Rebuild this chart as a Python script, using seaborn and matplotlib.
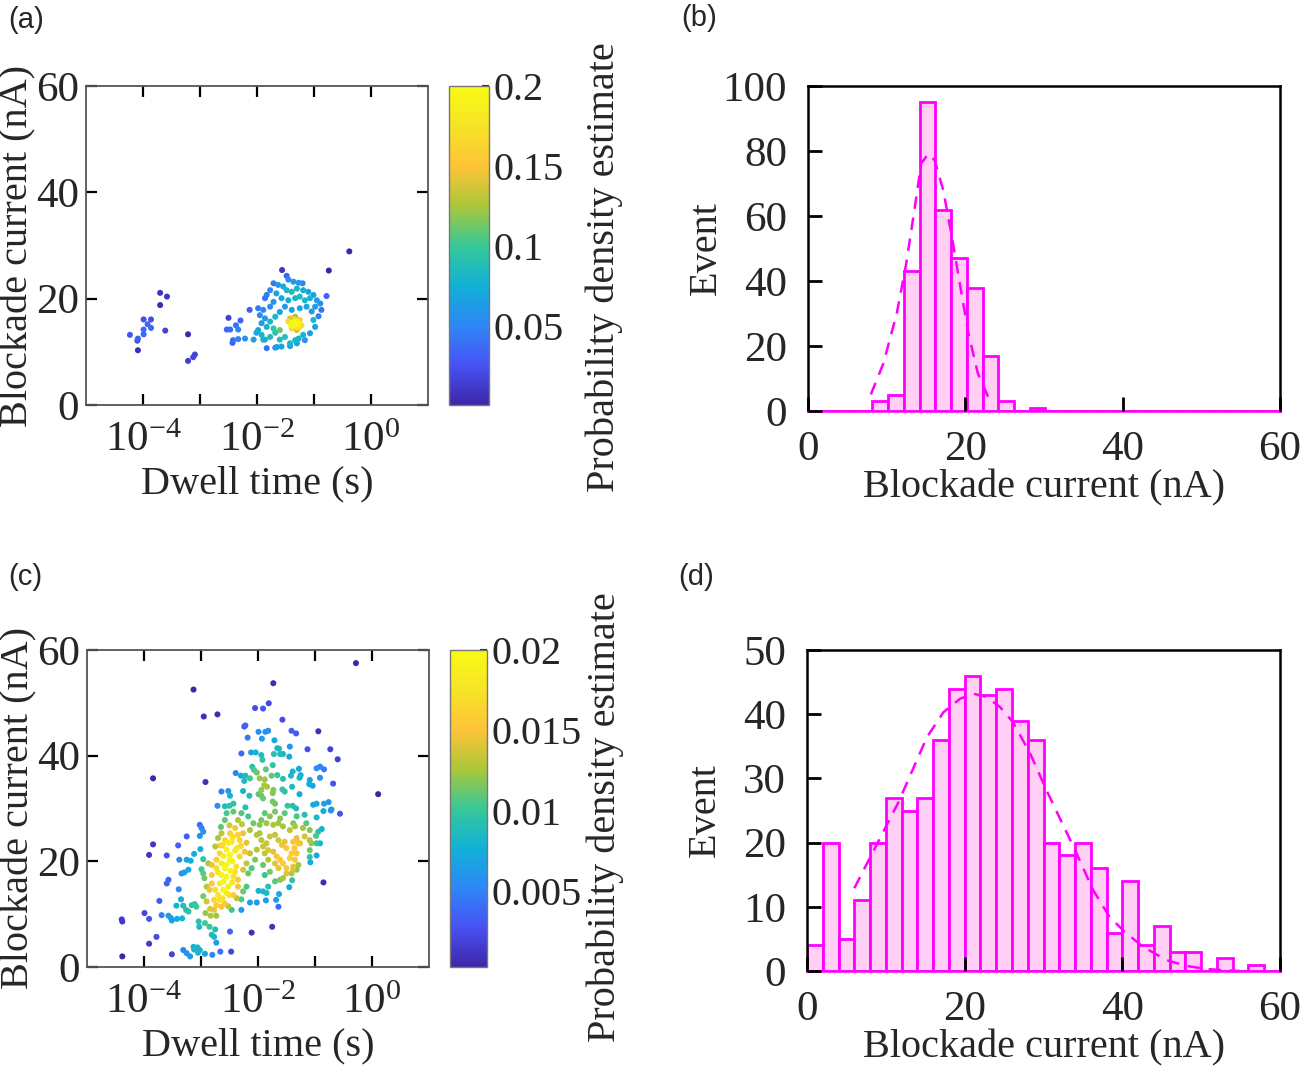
import matplotlib
matplotlib.use("Agg")
import matplotlib.pyplot as plt
from matplotlib.colors import LinearSegmentedColormap, Normalize
from matplotlib.cm import ScalarMappable
from matplotlib.ticker import NullLocator
import numpy as np
import pandas as pd
import seaborn as sns

# ---- data ---------------------------------------------------------------
# scatter panels: (log10 dwell time [s], blockade current [nA])
a_points = [
    (-3.70, 21.1), (-3.58, 20.4), (-3.70, 18.8), (-3.99, 16.1), (-3.86, 16.1), (-3.92, 15.2),
    (-3.99, 14.2), (-3.86, 14.5), (-3.61, 14.0), (-3.99, 13.3), (-4.23, 13.2), (-4.09, 12.5),
    (-4.10, 12.1), (-4.09, 10.3), (-3.21, 13.3), (-3.21, 8.3), (-3.12, 9.0), (-3.09, 9.5),
    (-0.38, 28.9), (-0.74, 25.3), (-1.56, 25.4), (-1.48, 24.3), (-1.45, 23.6), (-1.36, 23.2),
    (-1.27, 23.0), (-1.20, 22.9), (-1.71, 22.9), (-1.63, 22.6), (-1.54, 22.3), (-1.77, 21.6),
    (-1.83, 20.7), (-1.86, 20.1), (-1.66, 21.0), (-1.48, 21.6), (-1.39, 21.3), (-1.30, 21.9),
    (-1.19, 21.6), (-1.10, 21.3), (-1.01, 20.7), (-1.07, 20.1), (-0.95, 19.7), (-0.89, 19.1),
    (-0.78, 20.5), (-0.87, 17.9), (-0.92, 16.7), (-0.98, 18.5), (-1.16, 19.7), (-1.25, 20.4),
    (-1.33, 20.1), (-1.45, 19.7), (-1.57, 20.1), (-1.71, 19.4), (-1.77, 18.5), (-1.89, 17.9),
    (-1.98, 18.2), (-1.95, 16.9), (-1.86, 16.3), (-1.77, 15.7), (-1.68, 16.6), (-1.60, 17.5),
    (-1.51, 18.5), (-1.39, 17.9), (-1.25, 18.2), (-1.13, 18.5), (-1.04, 17.6), (-1.01, 16.0),
    (-0.98, 14.7), (-1.07, 13.5), (-1.19, 13.2), (-1.27, 12.5), (-1.33, 12.2), (-1.42, 11.6),
    (-1.51, 12.8), (-1.60, 14.1), (-1.71, 14.4), (-1.83, 14.7), (-1.92, 15.4), (-1.98, 14.1),
    (-2.01, 13.6), (-1.92, 13.2), (-1.86, 12.3), (-1.77, 12.8), (-1.68, 13.6), (-1.60, 12.3),
    (-1.57, 11.0), (-1.68, 10.8), (-1.83, 10.7), (-1.42, 11.1), (-1.30, 11.6), (-1.16, 12.2),
    (-1.42, 16.3), (-1.33, 16.6), (-1.25, 16.0), (-1.36, 15.0), (-1.30, 14.7), (-1.39, 15.4),
    (-1.45, 15.7), (-1.27, 15.4), (-1.33, 15.7), (-1.22, 15.0), (-1.39, 14.4), (-1.30, 14.1),
    (-1.32, 15.2), (-1.35, 15.5), (-1.30, 15.8), (-1.38, 14.8), (-1.28, 15.1), (-1.34, 16.1),
    (-1.40, 15.0), (-1.26, 14.6), (-2.13, 17.9), (-2.50, 16.4), (-2.29, 15.9), (-2.37, 15.0),
    (-2.53, 14.2), (-2.47, 14.2), (-2.33, 14.2), (-2.42, 12.2), (-2.33, 12.4), (-2.21, 12.5),
    (-2.06, 12.3), (-1.65, 10.9), (-2.43, 11.7), (-1.89, 12.3),
]

c_points = [
    (-3.13, 52.5), (-2.95, 47.4), (-2.71, 47.8), (-2.05, 49.0), (-2.24, 45.5), (-2.22, 45.7),
    (-2.18, 43.4), (-1.99, 44.5), (-2.29, 40.4), (-2.12, 40.6), (-2.04, 40.6), (-3.84, 35.7),
    (-2.92, 35.0), (-2.39, 36.7), (-2.30, 36.2), (-2.22, 36.2), (-2.14, 35.7), (-2.07, 37.3),
    (-2.02, 36.8), (-2.10, 37.9), (-2.24, 35.2), (-2.26, 33.3), (-2.15, 32.4), (-1.99, 32.7),
    (-2.64, 33.2), (-2.52, 33.3), (-2.49, 32.4), (-2.71, 30.5), (-2.58, 30.4), (-2.50, 30.5),
    (-2.43, 30.9), (-2.22, 30.2),
    (-0.28, 57.5), (-1.73, 53.7), (-1.81, 49.9), (-1.91, 48.9), (-1.57, 46.8), (-1.87, 44.5),
    (-1.82, 44.7), (-1.41, 44.7), (-1.33, 44.2), (-0.94, 44.6), (-1.93, 43.2), (-1.71, 42.9),
    (-1.66, 41.4), (-1.63, 41.3), (-1.72, 40.3), (-1.61, 40.3), (-1.56, 40.3), (-1.44, 41.7),
    (-1.45, 39.8), (-1.13, 41.2), (-0.73, 41.2), (-0.60, 39.3), (-1.94, 40.1), (-1.92, 39.2),
    (-1.74, 38.2), (-1.86, 37.4), (-1.39, 37.0), (-1.28, 37.5), (-0.97, 37.6), (-0.91, 37.9),
    (-0.84, 37.4), (-0.91, 35.8), (-1.09, 35.4), (-1.10, 34.6), (-1.04, 34.3), (-0.68, 34.7),
    (-1.97, 35.7), (-1.88, 35.5), (-1.76, 36.2), (-1.66, 36.3), (-1.56, 35.6), (-1.42, 36.2),
    (-1.27, 35.8), (-1.25, 36.3), (-1.89, 34.4), (-1.84, 34.1), (-1.94, 33.5), (-1.73, 33.5),
    (-1.74, 32.9), (-1.57, 33.6), (-1.53, 33.2), (-1.40, 34.1), (-1.27, 32.7), (-1.94, 32.4),
    (-1.91, 31.9), (-1.74, 31.3), (-1.70, 30.9), (-1.48, 30.5), (-1.39, 30.5), (-1.33, 30.0),
    (-1.03, 30.7), (-0.97, 30.9), (-0.84, 30.9), (-0.76, 31.2), (-0.71, 29.8), (0.11, 32.7),
    (-3.84, 23.2), (-3.91, 21.2), (-3.60, 21.1), (-3.40, 23.0), (-3.25, 24.7), (-3.02, 26.9),
    (-2.99, 26.3), (-2.96, 25.6), (-3.02, 24.8), (-3.01, 22.3), (-3.12, 21.4), (-3.38, 20.3),
    (-3.25, 20.3), (-3.18, 20.1), (-3.22, 18.4), (-3.29, 17.9), (-3.34, 17.7), (-3.57, 16.5),
    (-3.60, 15.8), (-3.39, 14.7), (-3.73, 12.5), (-3.99, 10.2), (-3.91, 9.1), (-3.69, 9.8),
    (-3.57, 9.7), (-3.53, 9.3), (-3.51, 8.8), (-3.42, 9.1), (-3.33, 9.2), (-3.43, 11.6),
    (-3.31, 11.6), (-3.26, 10.8), (-3.35, 12.8), (-3.16, 11.7), (-3.11, 11.9), (-3.22, 10.5),
    (-3.78, 5.7), (-3.91, 4.4), (-4.39, 9.0), (-4.38, 8.6), (-4.38, 2.0), (-3.51, 2.4),
    (-3.31, 3.2), (-3.25, 2.6), (-3.19, 2.0), (-3.12, 3.3), (-3.13, 3.8), (-3.06, 3.7),
    (-3.05, 2.7), (-3.02, 3.2), (-2.93, 2.5), (-2.80, 2.3), (-2.66, 2.9), (-2.47, 2.9),
    (-2.73, 4.6), (-2.77, 5.7), (-2.81, 6.1), (-2.75, 7.1), (-2.85, 7.6), (-3.03, 7.6),
    (-3.04, 8.6), (-2.93, 8.3), (-2.92, 10.2), (-2.83, 9.7), (-2.73, 9.7), (-2.77, 10.8),
    (-2.84, 11.0), (-3.08, 11.4), (-2.90, 12.4), (-2.96, 13.4), (-2.85, 14.6), (-2.90, 15.2),
    (-2.81, 15.8), (-2.75, 14.6), (-2.70, 13.6), (-2.77, 12.7), (-2.67, 12.7), (-2.73, 11.7),
    (-2.64, 11.4), (-2.94, 16.8), (-2.96, 17.7), (-2.99, 18.5), (-2.87, 19.6), (-2.81, 19.3),
    (-2.73, 20.3), (-2.96, 20.4), (-2.75, 22.8), (-2.67, 21.5), (-2.70, 24.4), (-2.58, 24.0),
    (-2.64, 25.3), (-2.49, 25.3), (-2.40, 26.3), (-2.58, 27.8), (-2.55, 29.1), (-2.43, 29.4),
    (-2.29, 29.1), (-2.17, 28.5), (-2.08, 27.2), (-2.14, 25.9), (-2.02, 25.0), (-2.26, 25.3),
    (-2.32, 24.0), (-2.46, 23.7), (-2.37, 22.5), (-2.23, 21.8), (-2.14, 21.5), (-2.02, 22.2),
    (-2.05, 20.3), (-2.20, 19.6), (-2.26, 18.4), (-2.17, 17.7), (-2.49, 20.3), (-2.58, 18.7),
    (-2.64, 17.4), (-2.55, 17.1), (-2.43, 17.1), (-2.35, 16.5), (-2.52, 15.2), (-2.43, 13.6),
    (-2.37, 13.0), (-2.29, 12.8), (-2.46, 10.8), (-2.29, 10.8), (-2.49, 6.7), (-2.11, 6.5),
    (-2.14, 12.2), (-2.02, 12.2), (-1.99, 14.4), (-2.11, 18.7), (-2.55, 22.2), (-2.49, 21.2),
    (-2.32, 20.9), (-2.64, 19.6), (-2.73, 18.7), (-2.81, 17.4), (-2.67, 15.8), (-2.61, 14.6),
    (-2.50, 13.6), (-2.26, 14.3), (-2.20, 15.2), (-2.35, 15.2),
    (-2.62, 23.0), (-2.52, 23.5), (-2.44, 24.6), (-2.35, 25.0), (-2.40, 22.0), (-2.60, 21.0),
    (-2.45, 20.0), (-2.38, 19.0), (-2.55, 19.4), (-2.48, 18.2), (-2.40, 18.0), (-2.60, 16.2),
    (-2.45, 16.0), (-2.55, 14.0), (-2.62, 13.0), (-2.58, 12.0), (-2.52, 11.5), (-2.70, 17.9),
    (-2.66, 23.0), (-2.30, 22.9), (-2.28, 27.0), (-2.35, 27.8), (-2.50, 26.8), (-2.65, 26.5),
    (-2.20, 23.5),
    (-0.56, 29.0), (-0.72, 29.6), (-0.85, 29.5), (-0.97, 28.3), (-1.18, 28.8), (-1.15, 27.2),
    (-1.32, 28.5), (-1.38, 27.2), (-1.53, 29.1), (-1.61, 28.1), (-1.70, 29.4), (-1.79, 28.5),
    (-1.88, 29.1), (-1.94, 27.8), (-1.97, 26.9), (-1.85, 27.2), (-1.73, 26.9), (-1.64, 27.2),
    (-1.56, 26.6), (-1.44, 25.9), (-1.35, 26.6), (-1.21, 26.3), (-1.09, 25.9), (-0.94, 25.6),
    (-0.88, 26.1), (-0.98, 24.8), (-1.18, 24.7), (-1.32, 24.4), (-1.26, 23.4), (-1.38, 23.7),
    (-1.09, 24.0), (-0.91, 23.4), (-0.97, 23.4), (-1.06, 23.4), (-1.09, 22.1), (-0.97, 21.1),
    (-1.09, 20.8), (-1.08, 19.8), (-1.29, 23.4), (-1.36, 22.5), (-1.32, 21.5), (-1.41, 21.5),
    (-1.44, 20.6), (-1.35, 20.3), (-1.29, 19.3), (-1.38, 19.0), (-1.50, 18.7), (-1.56, 19.6),
    (-1.61, 20.3), (-1.67, 20.9), (-1.73, 21.8), (-1.82, 22.1), (-1.85, 23.4), (-1.79, 24.7),
    (-1.70, 25.0), (-1.64, 24.0), (-1.58, 23.1), (-1.50, 22.5), (-1.53, 23.7), (-1.97, 25.3),
    (-1.94, 24.0), (-1.91, 22.8), (-1.88, 21.5), (-1.82, 20.3), (-1.70, 19.6), (-1.64, 18.7),
    (-1.91, 19.3), (-1.79, 18.0), (-1.88, 17.4), (-1.70, 16.2), (-1.61, 16.5), (-1.56, 16.8),
    (-1.50, 17.7), (-1.41, 17.7), (-1.38, 18.4), (-1.32, 18.4), (-1.40, 16.4), (-1.45, 15.1),
    (-1.82, 15.2), (-1.91, 14.3), (-1.85, 14.0), (-1.86, 12.6), (-1.68, 12.7), (-1.63, 13.8),
    (-1.64, 11.4), (-1.75, 7.6), (-0.85, 16.0),
]

# histogram panels: bin edges (nA) and event counts
b_edges = [0.2, 2.2, 4.2, 6.2, 8.2, 10.2, 12.2, 14.2, 16.2, 18.2, 20.2, 22.2, 24.2, 26.2,
           28.2, 30.2, 32.2, 34.2, 36.2, 38.2, 40.2, 42.2, 44.2, 46.2, 48.2, 50.2, 52.2,
           54.2, 56.2, 58.2, 60.2]
b_counts = [0, 0, 0, 0, 3, 5, 43, 95, 62, 47, 38, 17, 3, 0, 1,
            0, 0, 0, 0, 0, 0, 0, 0, 0, 0, 0, 0, 0, 0, 0]
b_fit_x = [8.0, 9.6, 11.3, 12.5, 13.6, 14.4, 15.3, 16.1, 17.2, 18.3, 19.3, 20.4, 21.6, 22.9]
b_fit_y = [5.1, 14.7, 30.1, 45.4, 62.9, 76.2, 79.1, 77.2, 68.0, 53.6, 39.3, 23.9, 11.6, 4.4]

d_edges = [0, 2, 4, 6, 8, 10, 12, 14, 16, 18, 20, 22, 24, 26, 28, 30, 32, 34, 36, 38,
           40, 42, 44, 46, 48, 50, 52, 54, 56, 58, 60]
d_counts = [4, 20, 5, 11, 20, 27, 25, 27, 36, 44, 46, 43, 44, 39, 36,
            20, 18, 20, 16, 6, 14, 4, 7, 3, 3, 0, 2, 0, 1, 0]
d_fit_x = [6.0, 8.8, 11.6, 15.2, 17.3, 19.4, 21.1, 22.8, 24.5, 26.1, 28.3, 30.4, 32.5,
           34.2, 36.3, 38.4, 40.3, 42.6, 45.6, 48.1, 50.7, 54.9]
d_fit_y = [12.9, 19.6, 26.3, 36.4, 40.3, 42.4, 43.2, 42.7, 41.1, 38.8, 33.9, 28.1, 22.7,
           18.3, 12.6, 8.4, 6.1, 3.8, 1.7, 0.8, 0.3, 0.0]

# ---- style ----------------------------------------------------------------
sns.set_style("ticks")
plt.rcParams['font.family'] = ['Liberation Serif', 'DejaVu Serif']
plt.rcParams['mathtext.fontset'] = 'custom'
plt.rcParams['mathtext.rm'] = 'Liberation Serif'
plt.rcParams['mathtext.it'] = 'Liberation Serif:italic'

parula = LinearSegmentedColormap.from_list('parula', [
    (0.2422, 0.1504, 0.6603), (0.2810, 0.3228, 0.9579), (0.1786, 0.5289, 0.9682),
    (0.0689, 0.6948, 0.8394), (0.2161, 0.7843, 0.5923), (0.6720, 0.7793, 0.2227),
    (0.9970, 0.7659, 0.2199), (0.9650, 0.8900, 0.1500), (0.9769, 0.9839, 0.0805)])

FS_TICK = 31
FS_LAB = 29
FS_CB = 29
MAG = '#ff00ff'
PINK = '#ffcff4'


def density(lx, cur, bw):
    pts = np.column_stack([lx, cur]) / np.array([np.std(lx), np.std(cur)])
    d2 = ((pts[:, None, :] - pts[None, :, :]) ** 2).sum(-1)
    return np.exp(-0.5 * d2 / bw ** 2).sum(1)


def scatter_panel(ax, cax, pts, vmin, vmax, cticks, clabels, bw, label_xy):
    lx, cur = np.array(pts).T
    dens = density(lx, cur, bw)
    dens = vmin + (vmax - vmin) * 0.98 * (dens - dens.min()) / (dens.max() - dens.min())
    df = pd.DataFrame({'dwell': 10 ** lx, 'current': cur, 'pde': dens}).sort_values('pde')
    sns.scatterplot(data=df, x='dwell', y='current', hue='pde', palette=parula,
                    hue_norm=(vmin, vmax), s=19, linewidth=0, legend=False, ax=ax)
    ax.set_xscale('log')
    ax.set_xlim(1e-5, 1e1)
    ax.set_ylim(0, 60)
    ax.set_xticks([1e-4, 1e-3, 1e-2, 1e-1, 1e0])
    ax.set_xticklabels(['$10^{-4}$', '', '$10^{-2}$', '', '$10^{0}$'])
    ax.xaxis.set_minor_locator(NullLocator())
    ax.set_yticks([0, 20, 40, 60])
    ax.tick_params(direction='in', top=True, right=True, length=8, width=1.6,
                   labelsize=FS_TICK, color='black')
    ax.tick_params(axis='y', pad=5)
    ax.tick_params(axis='x', pad=12)
    for sp in ax.spines.values():
        sp.set_color('#555555')
        sp.set_linewidth(1.3)
    ax.set_xlabel('Dwell time (s)', fontsize=FS_LAB, labelpad=4)
    ax.set_ylabel('Blockade current (nA)', fontsize=FS_LAB, labelpad=0)

    sm = ScalarMappable(norm=Normalize(vmin, vmax), cmap=parula)
    cb = plt.colorbar(sm, cax=cax)
    cb.set_ticks(cticks)
    cb.set_ticklabels(clabels)
    cb.ax.tick_params(direction='in', length=5, width=1.5, labelsize=FS_CB, pad=3)
    cb.outline.set_edgecolor('#777777')
    cb.outline.set_linewidth(1)
    cb.set_label('Probability density estimate', fontsize=FS_LAB, rotation=90, va='center')
    cb.ax.yaxis.set_label_coords(*label_xy)


def hist_panel(ax, edges, counts, fit_x, fit_y, ymax, yticks):
    edges = [float(e) for e in edges]
    centers = [(lo + hi) / 2 for lo, hi in zip(edges[:-1], edges[1:])]
    df = pd.DataFrame({'current': centers, 'events': counts})
    sns.histplot(data=df, x='current', weights='events', bins=edges, color=PINK,
                 edgecolor=MAG, linewidth=2, alpha=1, ax=ax)
    sns.lineplot(x=fit_x, y=fit_y, color=MAG, linestyle=(0, (5, 3.5)), linewidth=1.8, ax=ax)
    ax.set_xlim(0, 60)
    ax.set_ylim(0, ymax)
    ax.set_xticks([0, 20, 40, 60])
    ax.set_yticks(yticks)
    ax.set_axisbelow(False)
    ax.tick_params(direction='in', length=10, width=2, labelsize=FS_TICK, color='black')
    ax.tick_params(axis='y', pad=15)
    ax.tick_params(axis='x', pad=14)
    for sp in ax.spines.values():
        sp.set_color('black')
        sp.set_linewidth(1.8)
    ax.spines['bottom'].set_color(MAG)
    ax.set_xlabel('Blockade current (nA)', fontsize=FS_LAB, labelpad=0)
    ax.set_ylabel('Event', fontsize=FS_LAB)
    ax.yaxis.set_label_coords(-0.176, 0.5)


fig = plt.figure(figsize=(13, 10.7), dpi=100)

ax_a = fig.add_axes([0.0662, 0.6215, 0.263, 0.298])
cax_a = fig.add_axes([0.3454, 0.6215, 0.0308, 0.298])
ax_b = fig.add_axes([0.6215, 0.6159, 0.363, 0.3037])
ax_c = fig.add_axes([0.0669, 0.0963, 0.263, 0.2963])
cax_c = fig.add_axes([0.3462, 0.0963, 0.0285, 0.2963])
ax_d = fig.add_axes([0.6208, 0.0925, 0.3638, 0.300])

scatter_panel(ax_a, cax_a, a_points, 0.001, 0.2, [0.05, 0.1, 0.15, 0.2],
              ['0.05', '0.1', '0.15', '0.2'], 0.25, (3.88, 0.433))
scatter_panel(ax_c, cax_c, c_points, 0.0003, 0.02, [0.005, 0.01, 0.015, 0.02],
              ['0.005', '0.01', '0.015', '0.02'], 0.22, (4.19, 0.473))
hist_panel(ax_b, b_edges, b_counts, b_fit_x, b_fit_y, 100, [0, 20, 40, 60, 80, 100])
hist_panel(ax_d, d_edges, d_counts, d_fit_x, d_fit_y, 50, [0, 10, 20, 30, 40, 50])

for lab, (x, y) in zip(['(a)', '(b)', '(c)', '(d)'],
                       [(0.006, 0.981), (0.524, 0.983), (0.006, 0.461), (0.522, 0.461)]):
    fig.text(x, y, lab, fontsize=21, family='Liberation Sans', va='center', ha='left')

fig.savefig('out.png', dpi=100)
